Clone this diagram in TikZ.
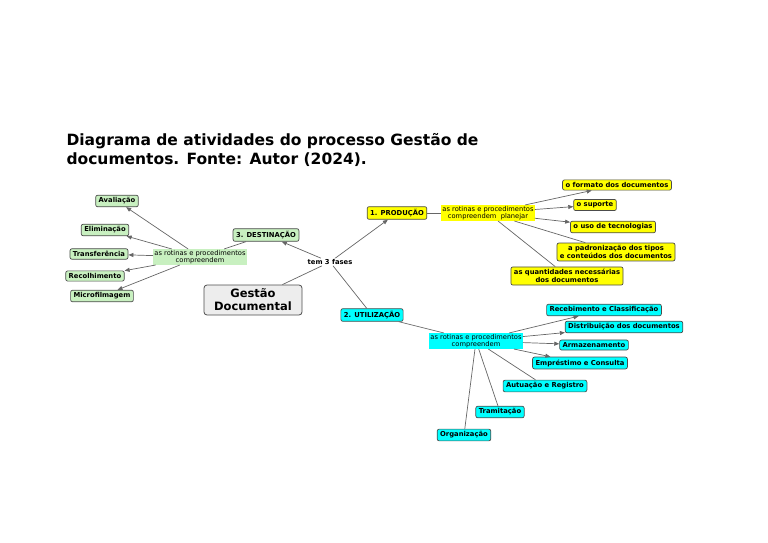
\documentclass[tikz,border=0pt]{standalone}
\usepackage{fontspec}
\setmainfont{DejaVu Sans}
\usetikzlibrary{arrows.meta}
\definecolor{gfill}{HTML}{C8F0C0}
\definecolor{yfill}{HTML}{FFFF00}
\definecolor{cfill}{HTML}{00FFFF}
\tikzset{
 leaf/.style={draw=black!70,rounded corners=2pt,line width=0.7pt,inner xsep=3pt,inner ysep=2.5pt,font=\fontsize{6.8}{7.6}\selectfont\bfseries,align=center},
 gleaf/.style={leaf,fill=gfill},
 yleaf/.style={leaf,fill=yfill},
 cleaf/.style={leaf,fill=cfill},
 link/.style={inner sep=1pt,font=\fontsize{6.7}{7.2}\selectfont,align=center},
 con/.style={draw=black!60,line width=0.7pt},
 arr/.style={con,-{Triangle[length=5pt,width=4pt]}},
}
\begin{document}
\begin{tikzpicture}[x=1pt,y=-1pt]
\useasboundingbox (0,0) rectangle (768,543);
\node[anchor=west,font=\fontsize{15.5}{19}\selectfont\bfseries,align=left] (title) at (63,150) {Diagrama de atividades do processo Gestão de\\documentos. Fonte: Autor (2024).};
\node[draw=black!70,fill=black!7,rounded corners=3pt,line width=0.8pt,font=\fontsize{11.5}{13}\selectfont\bfseries,align=center,minimum width=98pt,minimum height=30pt,inner sep=1pt] (gd) at (253,300) {Gestão\\Documental};
\node[font=\fontsize{6.8}{7}\selectfont\bfseries,inner sep=1pt] (t3) at (330,262) {tem 3 fases};
\node[gleaf] (dest) at (266,235) {3. DESTINAÇÃO};
\node[yleaf] (prod) at (397,213) {1. PRODUÇÃO};
\node[cleaf] (util) at (372,315) {2. UTILIZAÇÃO};
\node[link,fill=gfill] (gl) at (200,257) {as rotinas e procedimentos\\compreendem};
\node[link,fill=yfill] (yl) at (488,213) {as rotinas e procedimentos\\compreendem \ planejar};
\node[link,fill=cfill] (cl) at (476,341) {as rotinas e procedimentos\\compreendem};
\node[gleaf] (g1) at (117,201) {Avaliação};
\node[gleaf] (g2) at (105,230) {Eliminação};
\node[gleaf] (g3) at (99,254) {Transferência};
\node[gleaf] (g4) at (95,276) {Recolhimento};
\node[gleaf] (g5) at (102,296) {Microfilmagem};
\node[yleaf] (y1) at (617,185) {o formato dos documentos};
\node[yleaf] (y2) at (595,205) {o suporte};
\node[yleaf] (y3) at (613,227) {o uso de tecnologias};
\node[yleaf] (y4) at (616,252) {a padronização dos tipos\\e conteúdos dos documentos};
\node[yleaf] (y5) at (567,276) {as quantidades necessárias\\dos documentos};
\node[cleaf] (c1) at (604,310) {Recebimento e Classificação};
\node[cleaf] (c2) at (624,327) {Distribuição dos documentos};
\node[cleaf] (c3) at (594,345) {Armazenamento};
\node[cleaf] (c4) at (580,363) {Empréstimo e Consulta};
\node[cleaf] (c5) at (545,386) {Autuação e Registro};
\node[cleaf] (c6) at (500,412) {Tramitação};
\node[cleaf] (c7) at (464,435) {Organização};
\draw[con] (gd.north east) ++(-20,0) -- (t3);
\draw[arr] (t3) -- (dest);
\draw[arr] (t3) -- (prod);
\draw[con] (t3) -- (util);
\draw[con] (dest) -- (gl);
\draw[con] (prod) -- (yl);
\draw[con] (util) -- (cl);
\foreach \n in {g1,g2,g3,g4,g5} \draw[arr] (gl) -- (\n);
\foreach \n in {y1,y2,y3} \draw[arr] (yl) -- (\n);
\foreach \n in {y4,y5} \draw[con] (yl) -- (\n);
\foreach \n in {c1,c2,c3,c4} \draw[arr] (cl) -- (\n);
\foreach \n in {c5,c6,c7} \draw[con] (cl) -- (\n);
\end{tikzpicture}
\end{document}
